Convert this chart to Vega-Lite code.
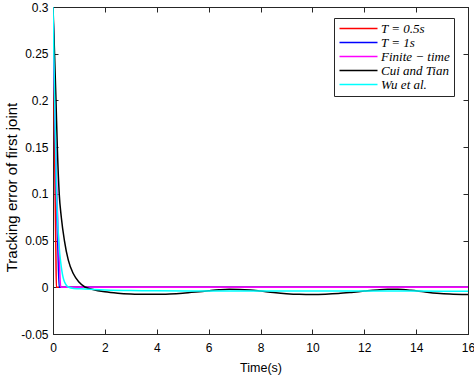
{
  "$schema": "https://vega.github.io/schema/vega-lite/v6.json",
  "width": 415,
  "height": 327,
  "autosize": {"type": "none"},
  "padding": {"left": 53, "top": 7, "right": 6, "bottom": 41},
  "background": "white",
  "config": {
    "view": {"stroke": "#262626", "strokeWidth": 1},
    "axis": {
      "grid": false,
      "domainColor": "#262626",
      "tickColor": "#262626",
      "labelColor": "#000000",
      "titleColor": "#000000",
      "labelFont": "Liberation Sans",
      "titleFont": "Liberation Sans",
      "labelFontSize": 12,
      "titleFontSize": 13,
      "titleFontWeight": "normal",
      "tickSize": -5,
      "labelFlush": false,
      "labelOverlap": false
    }
  },
  "data": {
    "values": [
      {"t": 0, "v": 0.3, "s": "T = 0.5s"},
      {"t": 0.04, "v": 0.2, "s": "T = 0.5s"},
      {"t": 0.08, "v": 0.1, "s": "T = 0.5s"},
      {"t": 0.11, "v": 0.04, "s": "T = 0.5s"},
      {"t": 0.13, "v": 0, "s": "T = 0.5s"},
      {"t": 16, "v": 0, "s": "T = 0.5s"},
      {"t": 0, "v": 0.3, "s": "T = 1s"},
      {"t": 0.06, "v": 0.2, "s": "T = 1s"},
      {"t": 0.13, "v": 0.1, "s": "T = 1s"},
      {"t": 0.19, "v": 0.04, "s": "T = 1s"},
      {"t": 0.24, "v": 0, "s": "T = 1s"},
      {"t": 16, "v": 0, "s": "T = 1s"},
      {"t": 0, "v": 0.3, "s": "Finite − time"},
      {"t": 0.07, "v": 0.2, "s": "Finite − time"},
      {"t": 0.15, "v": 0.1, "s": "Finite − time"},
      {"t": 0.23, "v": 0.04, "s": "Finite − time"},
      {"t": 0.3, "v": 0, "s": "Finite − time"},
      {"t": 16, "v": 0, "s": "Finite − time"},
      {"t": 0, "v": 0.3, "s": "Cui and Tian"},
      {"t": 0.06, "v": 0.25, "s": "Cui and Tian"},
      {"t": 0.115, "v": 0.2, "s": "Cui and Tian"},
      {"t": 0.17, "v": 0.147, "s": "Cui and Tian"},
      {"t": 0.24, "v": 0.1, "s": "Cui and Tian"},
      {"t": 0.32, "v": 0.075, "s": "Cui and Tian"},
      {"t": 0.44, "v": 0.05, "s": "Cui and Tian"},
      {"t": 0.59, "v": 0.029, "s": "Cui and Tian"},
      {"t": 0.78, "v": 0.0147, "s": "Cui and Tian"},
      {"t": 1.0, "v": 0.0057, "s": "Cui and Tian"},
      {"t": 1.23, "v": 0.0003, "s": "Cui and Tian"},
      {"t": 1.5, "v": -0.002, "s": "Cui and Tian"},
      {"t": 2, "v": -0.0048, "s": "Cui and Tian"},
      {"t": 2.5, "v": -0.0063, "s": "Cui and Tian"},
      {"t": 3, "v": -0.0071, "s": "Cui and Tian"},
      {"t": 3.5, "v": -0.0075, "s": "Cui and Tian"},
      {"t": 4, "v": -0.0075, "s": "Cui and Tian"},
      {"t": 4.5, "v": -0.0071, "s": "Cui and Tian"},
      {"t": 5, "v": -0.0063, "s": "Cui and Tian"},
      {"t": 5.5, "v": -0.0051, "s": "Cui and Tian"},
      {"t": 6, "v": -0.0037, "s": "Cui and Tian"},
      {"t": 6.4, "v": -0.0027, "s": "Cui and Tian"},
      {"t": 6.8, "v": -0.0021, "s": "Cui and Tian"},
      {"t": 7.2, "v": -0.0023, "s": "Cui and Tian"},
      {"t": 7.6, "v": -0.003, "s": "Cui and Tian"},
      {"t": 8, "v": -0.0041, "s": "Cui and Tian"},
      {"t": 8.5, "v": -0.0056, "s": "Cui and Tian"},
      {"t": 9, "v": -0.0068, "s": "Cui and Tian"},
      {"t": 9.5, "v": -0.0075, "s": "Cui and Tian"},
      {"t": 10, "v": -0.0077, "s": "Cui and Tian"},
      {"t": 10.5, "v": -0.0074, "s": "Cui and Tian"},
      {"t": 11, "v": -0.0067, "s": "Cui and Tian"},
      {"t": 11.5, "v": -0.0055, "s": "Cui and Tian"},
      {"t": 12, "v": -0.0041, "s": "Cui and Tian"},
      {"t": 12.5, "v": -0.0028, "s": "Cui and Tian"},
      {"t": 12.9, "v": -0.0021, "s": "Cui and Tian"},
      {"t": 13.3, "v": -0.0022, "s": "Cui and Tian"},
      {"t": 13.8, "v": -0.0032, "s": "Cui and Tian"},
      {"t": 14.3, "v": -0.0048, "s": "Cui and Tian"},
      {"t": 14.8, "v": -0.0063, "s": "Cui and Tian"},
      {"t": 15.3, "v": -0.0073, "s": "Cui and Tian"},
      {"t": 16, "v": -0.0078, "s": "Cui and Tian"},
      {"t": 0, "v": 0.3, "s": "Wu et al."},
      {"t": 0.065, "v": 0.2, "s": "Wu et al."},
      {"t": 0.14, "v": 0.1, "s": "Wu et al."},
      {"t": 0.22, "v": 0.05, "s": "Wu et al."},
      {"t": 0.32, "v": 0.0218, "s": "Wu et al."},
      {"t": 0.42, "v": 0.0075, "s": "Wu et al."},
      {"t": 0.59, "v": 0.0003, "s": "Wu et al."},
      {"t": 0.8, "v": -0.0012, "s": "Wu et al."},
      {"t": 1.2, "v": -0.0018, "s": "Wu et al."},
      {"t": 2, "v": -0.0028, "s": "Wu et al."},
      {"t": 3, "v": -0.0035, "s": "Wu et al."},
      {"t": 4, "v": -0.0038, "s": "Wu et al."},
      {"t": 6, "v": -0.004, "s": "Wu et al."},
      {"t": 8, "v": -0.004, "s": "Wu et al."},
      {"t": 10, "v": -0.004, "s": "Wu et al."},
      {"t": 12, "v": -0.004, "s": "Wu et al."},
      {"t": 14, "v": -0.0041, "s": "Wu et al."},
      {"t": 16, "v": -0.0042, "s": "Wu et al."}
    ]
  },
  "layer": [
    {
      "mark": {"type": "line", "strokeWidth": 1.5, "interpolate": "monotone", "clip": true},
      "encoding": {
        "x": {
          "field": "t", "type": "quantitative",
          "scale": {"domain": [0, 16], "nice": false},
          "axis": {"orient": "bottom", "title": "Time(s)", "titleFontSize": 12.5, "values": [0, 2, 4, 6, 8, 10, 12, 14, 16], "labelPadding": 13, "titlePadding": 8}
        },
        "y": {
          "field": "v", "type": "quantitative",
          "scale": {"domain": [-0.05, 0.3], "nice": false, "zero": false},
          "axis": {"orient": "left", "title": "Tracking error of first joint", "titleFontSize": 15, "titleY": 180, "values": [-0.05, 0, 0.05, 0.1, 0.15, 0.2, 0.25, 0.3], "labelExpr": "'' + round(datum.value*100)/100", "labelPadding": 10, "titlePadding": 1}
        },
        "color": {
          "field": "s", "type": "nominal",
          "scale": {
            "domain": ["T = 0.5s", "T = 1s", "Finite − time", "Cui and Tian", "Wu et al."],
            "range": ["#ff0000", "#0000ff", "#ff00ff", "#000000", "#00ffff"]
          },
          "legend": {
            "title": null,
            "orient": "none",
            "legendX": 281,
            "legendY": 11,
            "symbolType": "M-1,0H6.6",
            "symbolSize": 100,
            "symbolStrokeWidth": 1.5,
            "labelFont": "Liberation Serif",
            "labelFontStyle": "italic",
            "labelFontSize": 13,
            "labelColor": "#000000",
            "labelOffset": 30,
            "rowPadding": -1.5,
            "padding": 4,
            "strokeColor": "#262626",
            "fillColor": "white",
            "cornerRadius": 0
          }
        },
        "order": {"field": "t", "type": "quantitative"}
      }
    },
    {
      "mark": {"type": "line", "opacity": 0},
      "encoding": {
        "x": {"field": "t", "type": "quantitative", "axis": {"orient": "top", "title": null, "labels": false, "values": [0, 2, 4, 6, 8, 10, 12, 14, 16]}},
        "y": {"field": "v", "type": "quantitative", "axis": {"orient": "right", "title": null, "labels": false, "values": [-0.05, 0, 0.05, 0.1, 0.15, 0.2, 0.25, 0.3]}},
        "detail": {"field": "s", "type": "nominal"}
      }
    }
  ],
  "resolve": {"axis": {"x": "independent", "y": "independent"}}
}
